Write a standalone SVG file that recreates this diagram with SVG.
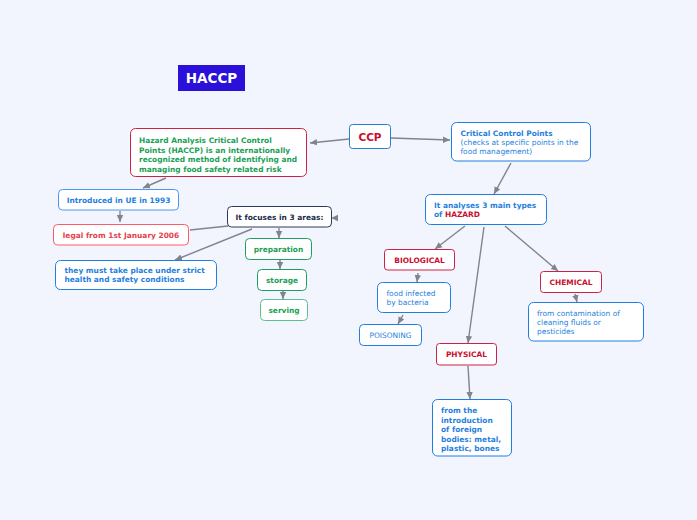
<svg xmlns="http://www.w3.org/2000/svg" width="697" height="520" viewBox="0 0 697 520">
<defs>
<marker id="ah" markerWidth="8" markerHeight="8" refX="7" refY="4" orient="auto" markerUnits="userSpaceOnUse">
<path d="M0,0.8 L7,4 L0,7.2 Z" fill="#80848c"/>
</marker>
<style>
text{font-family:"DejaVu Sans","Verdana",sans-serif;}
.box{fill:#ffffff;stroke-width:1;}
.red{stroke:#cc2244;}
.blue{stroke:#1f7fe0;}
.pink{stroke:#ff5a6a;}
.navy{stroke:#2c3a5e;}
.green{stroke:#1aa060;}
.c{stroke:#80848c;stroke-width:1.4;fill:none;}
.b{font-weight:bold;font-size:7.45px;}
.n{font-size:7.45px;}
.tr{fill:#c8102e;}
.tb{fill:#1f7fe0;}
.tg{fill:#1aa055;}
</style>
</defs>
<rect width="697" height="520" fill="#f2f5fe"/>

<g id="connectors">
<line class="c" x1="349" y1="139" x2="310" y2="143" marker-end="url(#ah)"/>
<line class="c" x1="391" y1="138" x2="450" y2="140" marker-end="url(#ah)"/>
<line class="c" x1="166" y1="178" x2="143" y2="188" marker-end="url(#ah)"/>
<line class="c" x1="120" y1="211" x2="120" y2="222" marker-end="url(#ah)"/>
<line class="c" x1="228" y1="226" x2="190" y2="230"/>
<path d="M331,218 L338,214.8 L338,221.2 Z" fill="#80848c"/>
<line class="c" x1="252" y1="229" x2="175" y2="260" marker-end="url(#ah)"/>
<line class="c" x1="279" y1="228" x2="279" y2="238" marker-end="url(#ah)"/>
<line class="c" x1="280" y1="260" x2="280" y2="269" marker-end="url(#ah)"/>
<line class="c" x1="283" y1="291" x2="283" y2="299" marker-end="url(#ah)"/>
<line class="c" x1="511" y1="163" x2="494" y2="194" marker-end="url(#ah)"/>
<line class="c" x1="465" y1="226" x2="435" y2="249" marker-end="url(#ah)"/>
<line class="c" x1="484" y1="227" x2="468" y2="343" marker-end="url(#ah)"/>
<line class="c" x1="505" y1="226" x2="558" y2="271" marker-end="url(#ah)"/>
<line class="c" x1="418" y1="273" x2="417" y2="282" marker-end="url(#ah)"/>
<line class="c" x1="403" y1="315" x2="398" y2="324" marker-end="url(#ah)"/>
<line class="c" x1="575" y1="294" x2="577" y2="302" marker-end="url(#ah)"/>
<line class="c" x1="468" y1="366" x2="470" y2="399" marker-end="url(#ah)"/>
</g>

<g id="title">
<rect x="178" y="65" width="67" height="26" fill="#2a10d8"/>
<text x="211.5" y="83" text-anchor="middle" font-size="13.5" font-weight="bold" fill="#ffffff">HACCP</text>
</g>

<g id="ccp">
<rect class="box blue" x="349.5" y="124.5" width="41" height="24" rx="3" style="stroke:#2a7fc0"/>
<text x="370" y="141" text-anchor="middle" font-size="10.5" font-weight="bold" class="tr">CCP</text>
</g>

<g id="haccp-def">
<rect class="box red" x="130.5" y="128.5" width="176" height="48" rx="5"/>
<text class="b tg" x="139" y="143">Hazard Analysis Critical Control</text>
<text class="b tg" x="139" y="152.5">Points (HACCP) is an internationally</text>
<text class="b tg" x="139" y="162">recognized method of identifying and</text>
<text class="b tg" x="139" y="171.5">managing food safety related risk</text>
</g>

<g id="ccp-def">
<rect class="box blue" x="451.5" y="122.5" width="139" height="38.5" rx="5"/>
<text class="b tb" x="460.5" y="136">Critical Control Points</text>
<text class="n tb" x="460.5" y="145">(checks at specific points in the</text>
<text class="n tb" x="460.5" y="154">food management)</text>
</g>

<g id="analyses">
<rect class="box blue" x="425.5" y="194.5" width="121" height="30" rx="5"/>
<text class="b tb" x="434" y="207.5">It analyses 3 main types</text>
<text class="b" x="434" y="217"><tspan class="tb">of </tspan><tspan class="tr">HAZARD</tspan></text>
</g>

<g id="biological">
<rect class="box red" x="384.5" y="249.5" width="70" height="20.5" rx="3"/>
<text class="b tr" x="419.5" y="262.5" text-anchor="middle">BIOLOGICAL</text>
</g>

<g id="bacteria">
<rect class="box blue" x="377.5" y="282.5" width="73" height="30" rx="5"/>
<text class="n tb" x="386.5" y="296">food infected</text>
<text class="n tb" x="386.5" y="305">by bacteria</text>
</g>

<g id="poisoning">
<rect class="box blue" x="359.5" y="324.5" width="62" height="21" rx="4"/>
<text class="n tb" x="390.5" y="337.5" text-anchor="middle">POISONING</text>
</g>

<g id="chemical">
<rect class="box red" x="540.5" y="271.5" width="61" height="21" rx="3"/>
<text class="b tr" x="571" y="284.5" text-anchor="middle">CHEMICAL</text>
</g>

<g id="contamination">
<rect class="box blue" x="528.5" y="302.5" width="115" height="38.5" rx="5"/>
<text class="n tb" x="537" y="316">from contamination of</text>
<text class="n tb" x="537" y="325">cleaning fluids or</text>
<text class="n tb" x="537" y="334">pesticides</text>
</g>

<g id="physical">
<rect class="box red" x="436.5" y="343.5" width="60" height="21.5" rx="3"/>
<text class="b tr" x="466.5" y="357" text-anchor="middle">PHYSICAL</text>
</g>

<g id="foreign">
<rect class="box blue" x="432.5" y="399.5" width="79" height="56.5" rx="5"/>
<text class="b tb" x="441" y="413">from the</text>
<text class="b tb" x="441" y="422.5">introduction</text>
<text class="b tb" x="441" y="432">of foreign</text>
<text class="b tb" x="441" y="441.5">bodies: metal,</text>
<text class="b tb" x="441" y="451">plastic, bones</text>
</g>

<g id="introduced">
<rect class="box blue" x="58.5" y="189.5" width="120" height="20.5" rx="4" style="stroke:#4a98ea"/>
<text class="b tb" x="118.5" y="202.5" text-anchor="middle">Introduced in UE in 1993</text>
</g>

<g id="legal">
<rect class="box pink" x="53.5" y="224.5" width="135" height="20.5" rx="4"/>
<text class="b" x="121" y="237.5" text-anchor="middle" fill="#e8404a">legal from 1st January 2006</text>
</g>

<g id="conditions">
<rect class="box blue" x="55.5" y="260.5" width="161" height="29" rx="5"/>
<text class="b tb" x="64.5" y="272.5">they must take place under strict</text>
<text class="b tb" x="64.5" y="281.5">health and safety conditions</text>
</g>

<g id="focuses">
<rect class="box navy" x="227.5" y="206.5" width="104" height="20.5" rx="4"/>
<text class="b" x="279.5" y="219.5" text-anchor="middle" fill="#1c2a4a">It focuses in 3 areas:</text>
</g>

<g id="preparation">
<rect class="box green" x="245.5" y="238.5" width="66" height="21" rx="4"/>
<text class="b tg" x="278.5" y="251.5" text-anchor="middle">preparation</text>
</g>

<g id="storage">
<rect class="box green" x="257.5" y="269.5" width="49" height="21" rx="4"/>
<text class="b tg" x="282" y="282.5" text-anchor="middle">storage</text>
</g>

<g id="serving">
<rect class="box green" x="260.5" y="299.5" width="47" height="21" rx="4" style="stroke:#5ac090"/>
<text class="b tg" x="284" y="312.5" text-anchor="middle">serving</text>
</g>
</svg>
